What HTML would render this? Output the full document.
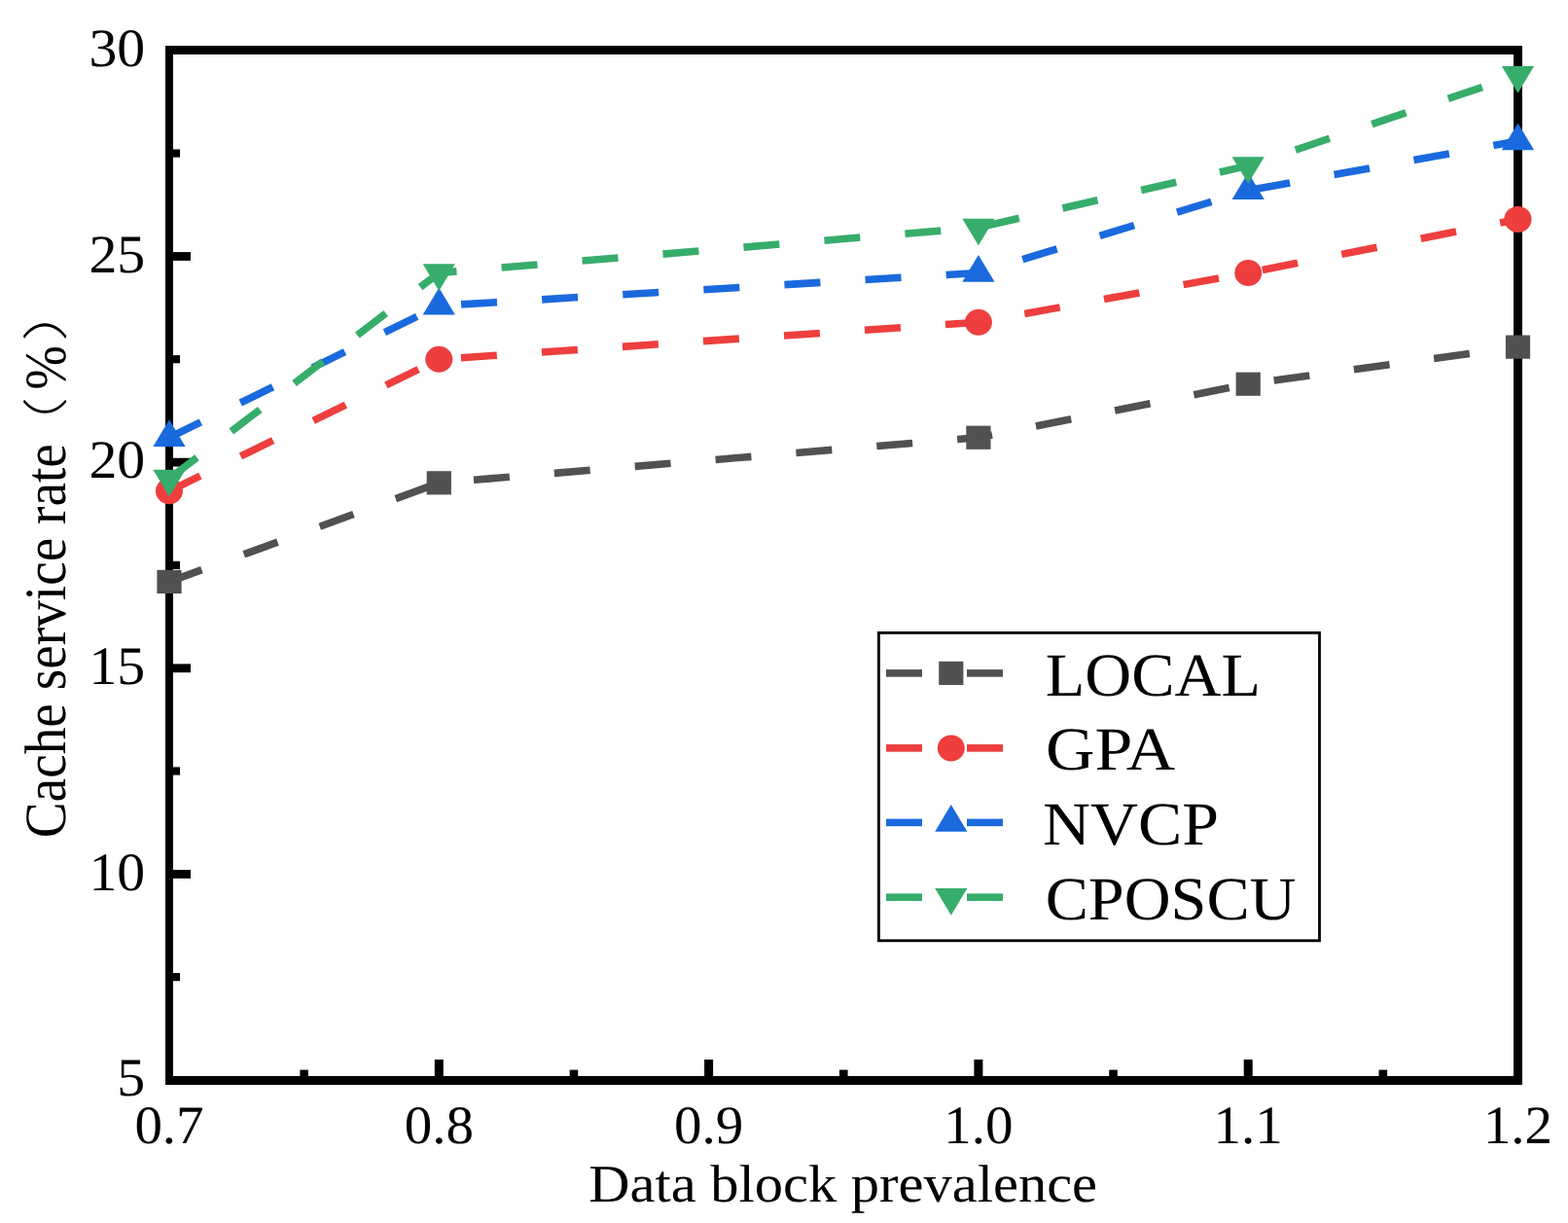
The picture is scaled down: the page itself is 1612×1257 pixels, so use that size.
<!DOCTYPE html><html><head><meta charset="utf-8"><style>html,body{margin:0;padding:0;background:#fff;}body{width:1612px;height:1257px;overflow:hidden;}svg{display:block;}text{font-family:"Liberation Serif","Noto Serif CJK SC",serif;fill:#000;text-rendering:geometricPrecision;}</style></head><body>
<svg width="1612" height="1257" viewBox="0 0 1612 1257">
<rect width="1612" height="1257" fill="#fff"/>
<g fill="#000"><rect x="178" y="894.05" width="18" height="8.8"/><rect x="178" y="682.40" width="18" height="8.8"/><rect x="178" y="470.75" width="18" height="8.8"/><rect x="178" y="259.10" width="18" height="8.8"/><rect x="178" y="1000.07" width="7" height="8.2"/><rect x="178" y="788.42" width="7" height="8.2"/><rect x="178" y="576.77" width="7" height="8.2"/><rect x="178" y="365.12" width="7" height="8.2"/><rect x="178" y="153.48" width="7" height="8.2"/><rect x="446.80" y="1089" width="9" height="17"/><rect x="724.10" y="1089" width="9" height="17"/><rect x="1001.40" y="1089" width="9" height="17"/><rect x="1278.70" y="1089" width="9" height="17"/><rect x="308.35" y="1099.6" width="8.6" height="6.4"/><rect x="585.65" y="1099.6" width="8.6" height="6.4"/><rect x="862.95" y="1099.6" width="8.6" height="6.4"/><rect x="1140.25" y="1099.6" width="8.6" height="6.4"/><rect x="1417.55" y="1099.6" width="8.6" height="6.4"/></g>
<g fill="#000"><rect x="170" y="47" width="8" height="1068"/><rect x="1556" y="47" width="9" height="1068"/><rect x="170" y="47" width="1395" height="9"/><rect x="170" y="1106" width="1395" height="9"/></g>
<text transform="translate(149.2 1126.20) scale(1.04 1)" font-size="55.6" text-anchor="end">5</text>
<text transform="translate(149.2 914.55) scale(1.04 1)" font-size="55.6" text-anchor="end">10</text>
<text transform="translate(149.2 702.90) scale(1.04 1)" font-size="55.6" text-anchor="end">15</text>
<text transform="translate(149.2 491.25) scale(1.04 1)" font-size="55.6" text-anchor="end">20</text>
<text transform="translate(149.2 279.60) scale(1.04 1)" font-size="55.6" text-anchor="end">25</text>
<text transform="translate(149.2 67.95) scale(1.04 1)" font-size="55.6" text-anchor="end">30</text>
<text transform="translate(174.00 1175.1) scale(1.025 1)" font-size="55.6" text-anchor="middle">0.7</text>
<text transform="translate(451.30 1175.1) scale(1.025 1)" font-size="55.6" text-anchor="middle">0.8</text>
<text transform="translate(728.60 1175.1) scale(1.025 1)" font-size="55.6" text-anchor="middle">0.9</text>
<text transform="translate(1005.90 1175.1) scale(1.025 1)" font-size="55.6" text-anchor="middle">1.0</text>
<text transform="translate(1283.20 1175.1) scale(1.025 1)" font-size="55.6" text-anchor="middle">1.1</text>
<text transform="translate(1560.50 1175.1) scale(1.025 1)" font-size="55.6" text-anchor="middle">1.2</text>
<text transform="translate(605.30 1234.8) scale(1.0711 1)" font-size="54.6">Data block prevalence</text>
<g transform="translate(67.2 861.27) scale(1.09 1) rotate(-90)"><text font-size="55.3" transform="scale(0.9998 1)">Cache service rate</text></g>
<g transform="translate(67.2 400.87) scale(1.09 1) rotate(-90)"><text font-size="55.3" transform="scale(0.9928 1)">%</text></g>
<text font-size="100.0" font-weight="300" transform="matrix(0 -0.58577 0.47040 0 63.925 466.624)" style="font-family:'Liberation Serif','Noto Sans CJK SC',sans-serif">（</text>
<text font-size="100.0" font-weight="300" transform="matrix(0 -0.65690 0.47040 0 63.925 351.087)" style="font-family:'Liberation Serif','Noto Sans CJK SC',sans-serif">）</text>
<g stroke="#515151" stroke-width="7.6" stroke-linecap="butt" fill="none"><line x1="174.00" y1="597.91" x2="451.30" y2="496.31" stroke-dasharray="37 46.10" stroke-dashoffset="-81.70"/><line x1="451.30" y1="496.31" x2="1005.90" y2="449.75" stroke-dasharray="37 46.15" stroke-dashoffset="-35.80"/><line x1="1005.90" y1="449.75" x2="1283.20" y2="394.72" stroke-dasharray="37 45.80" stroke-dashoffset="-60.20"/><line x1="1283.20" y1="394.72" x2="1560.50" y2="356.63" stroke-dasharray="37 46.00" stroke-dashoffset="-26.70"/></g>
<rect x="161.40" y="585.81" width="25.2" height="24.2" fill="#515151"/>
<rect x="438.70" y="484.21" width="25.2" height="24.2" fill="#515151"/>
<rect x="993.30" y="437.65" width="25.2" height="24.2" fill="#515151"/>
<rect x="1270.60" y="382.62" width="25.2" height="24.2" fill="#515151"/>
<rect x="1547.90" y="344.53" width="25.2" height="24.2" fill="#515151"/>
<g stroke="#ee3e3e" stroke-width="7.6" stroke-linecap="butt" fill="none"><line x1="174.00" y1="504.78" x2="451.30" y2="369.32" stroke-dasharray="37 46.20" stroke-dashoffset="-81.70"/><line x1="451.30" y1="369.32" x2="1005.90" y2="331.23" stroke-dasharray="37 46.20" stroke-dashoffset="-22.70"/><line x1="1005.90" y1="331.23" x2="1283.20" y2="280.43" stroke-dasharray="37 46.00" stroke-dashoffset="-48.20"/><line x1="1283.20" y1="280.43" x2="1560.50" y2="225.40" stroke-dasharray="37 46.05" stroke-dashoffset="-14.90"/></g>
<ellipse cx="174.00" cy="504.78" rx="14.0" ry="13.5" fill="#ee3e3e"/>
<ellipse cx="451.30" cy="369.32" rx="14.0" ry="13.5" fill="#ee3e3e"/>
<ellipse cx="1005.90" cy="331.23" rx="14.0" ry="13.5" fill="#ee3e3e"/>
<ellipse cx="1283.20" cy="280.43" rx="14.0" ry="13.5" fill="#ee3e3e"/>
<ellipse cx="1560.50" cy="225.40" rx="14.0" ry="13.5" fill="#ee3e3e"/>
<g stroke="#1a6ade" stroke-width="7.6" stroke-linecap="butt" fill="none"><line x1="174.00" y1="449.75" x2="451.30" y2="314.30" stroke-dasharray="37 45.45" stroke-dashoffset="-81.50"/><line x1="451.30" y1="314.30" x2="1005.90" y2="280.43" stroke-dasharray="37 46.25" stroke-dashoffset="-22.80"/><line x1="1005.90" y1="280.43" x2="1283.20" y2="195.77" stroke-dasharray="37 46.00" stroke-dashoffset="-47.40"/><line x1="1283.20" y1="195.77" x2="1560.50" y2="144.98" stroke-dasharray="37 46.25" stroke-dashoffset="-6.60"/></g>
<polygon points="157.40,458.99 190.60,458.99 174.00,431.29" fill="#1a6ade"/>
<polygon points="434.70,323.53 467.90,323.53 451.30,295.83" fill="#1a6ade"/>
<polygon points="989.30,289.67 1022.50,289.67 1005.90,261.97" fill="#1a6ade"/>
<polygon points="1266.60,205.01 1299.80,205.01 1283.20,177.31" fill="#1a6ade"/>
<polygon points="1543.90,154.21 1577.10,154.21 1560.50,126.51" fill="#1a6ade"/>
<g stroke="#37ad6b" stroke-width="7.6" stroke-linecap="butt" fill="none"><line x1="174.00" y1="492.08" x2="451.30" y2="280.43" stroke-dasharray="37 44.45" stroke-dashoffset="-80.30"/><line x1="451.30" y1="280.43" x2="1005.90" y2="233.87" stroke-dasharray="37 46.25" stroke-dashoffset="-64.50"/><line x1="1005.90" y1="233.87" x2="1283.20" y2="170.37" stroke-dasharray="37 45.85" stroke-dashoffset="-5.90"/><line x1="1283.20" y1="170.37" x2="1560.50" y2="77.25" stroke-dasharray="37 45.80" stroke-dashoffset="-51.30"/></g>
<polygon points="157.40,482.85 190.60,482.85 174.00,510.55" fill="#37ad6b"/>
<polygon points="434.70,271.20 467.90,271.20 451.30,298.90" fill="#37ad6b"/>
<polygon points="989.30,224.64 1022.50,224.64 1005.90,252.34" fill="#37ad6b"/>
<polygon points="1266.60,161.14 1299.80,161.14 1283.20,188.84" fill="#37ad6b"/>
<polygon points="1543.90,68.01 1577.10,68.01 1560.50,95.71" fill="#37ad6b"/>
<rect x="903.4" y="650.4" width="453.1" height="316.4" fill="none" stroke="#000" stroke-width="2.8"/>
<rect x="911" y="688.10" width="37" height="7.6" fill="#515151"/>
<rect x="994" y="688.10" width="37" height="7.6" fill="#515151"/>
<rect x="965.20" y="679.80" width="25.2" height="24.2" fill="#515151"/>
<rect x="911" y="765.10" width="37" height="7.6" fill="#ee3e3e"/>
<rect x="994" y="765.10" width="37" height="7.6" fill="#ee3e3e"/>
<ellipse cx="977.80" cy="768.90" rx="14.0" ry="13.5" fill="#ee3e3e"/>
<rect x="911" y="841.60" width="37" height="7.6" fill="#1a6ade"/>
<rect x="994" y="841.60" width="37" height="7.6" fill="#1a6ade"/>
<polygon points="961.20,854.63 994.40,854.63 977.80,826.93" fill="#1a6ade"/>
<rect x="911" y="918.40" width="37" height="7.6" fill="#37ad6b"/>
<rect x="994" y="918.40" width="37" height="7.6" fill="#37ad6b"/>
<polygon points="961.20,912.97 994.40,912.97 977.80,940.67" fill="#37ad6b"/>
<text transform="translate(1074.78 714.8) scale(1.0535 1)" font-size="63.0">LOCAL</text>
<text transform="translate(1075.04 790.7) scale(1.1080 1)" font-size="63.0">GPA</text>
<text transform="translate(1071.93 868.2) scale(1.0771 1)" font-size="63.0">NVCP</text>
<text transform="translate(1074.68 944.6) scale(1.0516 1)" font-size="63.0">CPOSCU</text>
</svg></body></html>
